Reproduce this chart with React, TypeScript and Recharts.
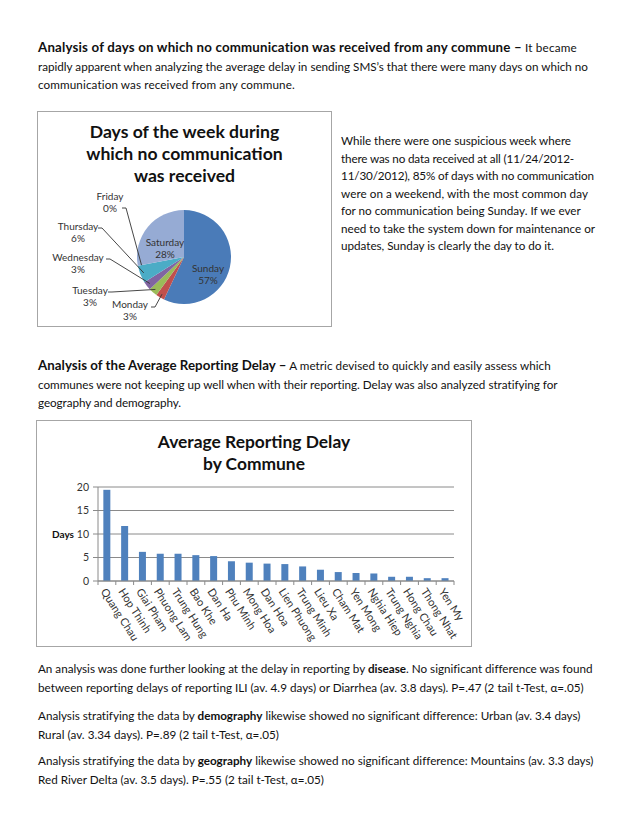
import { useLayoutEffect, useRef } from "react";
import { PieChart, Pie, Cell, BarChart, Bar, XAxis, YAxis, CartesianGrid } from "recharts";

// days with no communication received
const days = ["Sunday", "Monday", "Tuesday", "Wednesday", "Thursday", "Friday", "Saturday"];
const dayShares = [57, 3, 3, 3, 6, 0, 28];
const dayColors = ["#4A7BB8", "#C0504D", "#9BBB59", "#8064A2", "#4BACC6", "#F79646", "#96ABD4"];

// average reporting delay (days)
const communes = [
  "Quang Chau", "Hop Thinh", "Giai Pham", "Phuong Lam", "Trung Hung",
  "Bao Khe", "Dan Ha", "Phu Minh", "Mong Hoa", "Dan Hoa",
  "Lien Phuong", "Trung Minh", "Lieu Xa", "Cham Mat", "Yen Mong",
  "Nghia Hiep", "Trung Nghia", "Hong Chau", "Thong Nhat", "Yen My",
];
const delays = [19.4, 11.7, 6.2, 5.8, 5.8, 5.5, 5.3, 4.2, 3.9, 3.7, 3.6, 3.1, 2.4, 1.9, 1.7, 1.6, 0.9, 0.9, 0.6, 0.6];
const delayTicks = [0, 5, 10, 15, 20];

const pieData = days.map((d, i) => ({ name: d, value: dayShares[i] }));
const barData = communes.map((c, i) => ({ name: c, delay: delays[i] }));

const FONT = "Lato, 'Open Sans', sans-serif";
const GRID = "#8a8a8a";
const TEXT = "#333";

// label placement relative to the pie centre (inside labels have no leader)
const labelLayout = [
  { tx: 24, ty: 17, inside: true },
  { tx: -54, ty: 53, lx: -33, ly: 50 },
  { tx: -94, ty: 39, lx: -76, ly: 35 },
  { tx: -106, ty: 6, lx: -78, ly: 2 },
  { tx: -106, ty: -25, lx: -86, ly: -29 },
  { tx: -74, ty: -55, lx: -62, ly: -49 },
  { tx: -19, ty: -9, inside: true },
];

const RAD = Math.PI / 180;

function renderPieLabel(props: any) {
  const { cx, cy, midAngle, outerRadius, index } = props;
  const lay = labelLayout[index];
  const x = cx + lay.tx;
  const y = cy + lay.ty;
  const ex = cx + outerRadius * 0.92 * Math.cos(-midAngle * RAD);
  const ey = cy + outerRadius * 0.92 * Math.sin(-midAngle * RAD);
  return (
    <g key={"lbl" + index}>
      {!lay.inside && (
        <polyline
          points={`${cx + lay.lx},${cy + lay.ly} ${cx + lay.lx + 4},${cy + lay.ly} ${ex},${ey}`}
          fill="none"
          stroke="#333"
          strokeWidth={0.9}
        />
      )}
      <text x={x} y={y - 6} textAnchor="middle" dominantBaseline="central" fontSize={10} fill={TEXT} fontFamily={FONT}>
        {days[index]}
      </text>
      <text x={x} y={y + 6} textAnchor="middle" dominantBaseline="central" fontSize={10} fill={TEXT} fontFamily={FONT}>
        {dayShares[index]}%
      </text>
    </g>
  );
}

const BAR_W = 435;
const BAR_H = 226;
const Y_W = 62;
const RIGHT = 17;
const BAND = (BAR_W - Y_W - RIGHT) / communes.length;

function CommuneTick(props: any) {
  const { x, y, payload, index } = props;
  const i = index ?? payload.index;
  return (
    <g>
      <line x1={x - BAND / 2} x2={x - BAND / 2} y1={y} y2={y + 4} stroke={GRID} />
      {i === communes.length - 1 && <line x1={x + BAND / 2} x2={x + BAND / 2} y1={y} y2={y + 4} stroke={GRID} />}
      <text
        transform={`translate(${x - 3},${y + 8}) rotate(57)`}
        fontSize={11}
        fill={TEXT}
        fontFamily={FONT}
        dominantBaseline="central"
      >
        {payload.value}
      </text>
    </g>
  );
}

// one line of body text, letter-spaced so it ends where the original line ends
function Line({ top, left, end, children, size = 11.7 }: any) {
  const ref = useRef<HTMLDivElement>(null);
  useLayoutEffect(() => {
    const fit = () => {
      const el = ref.current;
      if (!el || !end) return;
      el.style.letterSpacing = "0px";
      const w = el.getBoundingClientRect().width;
      const n = (el.textContent || "").length;
      el.style.letterSpacing = `${(end - left - w) / n}px`;
    };
    fit();
    if (document.fonts) document.fonts.ready.then(fit);
  }, []);
  return (
    <div
      ref={ref}
      style={{
        position: "absolute",
        top: top - 9,
        left,
        height: 18,
        lineHeight: "18px",
        fontSize: size,
        whiteSpace: "nowrap",
        color: "#111",
      }}
    >
      {children}
    </div>
  );
}

const HEAD = 13.3;

export default function App() {
  return (
    <div style={{ position: "absolute", left: 0, top: 0, width: 638, height: 826, background: "#fff", fontFamily: FONT, overflow: "hidden" }}>
      <Line top={47} left={38} end={577}>
        <b style={{ fontSize: HEAD }}>Analysis of days on which no communication was received from any commune –</b> It became
      </Line>
      <Line top={66} left={38} end={588}>rapidly apparent when analyzing the average delay in sending SMS’s that there were many days on which no</Line>
      <Line top={84} left={38} end={295}>communication was received from any commune.</Line>

      {/* pie chart box */}
      <div style={{ position: "absolute", left: 37, top: 111, width: 293, height: 214, border: "1px solid #a6a6a6" }} />
      <div style={{ position: "absolute", left: 37, top: 121, width: 295, textAlign: "center", fontWeight: 700, fontSize: 17.6, lineHeight: "22px", color: "#111" }}>
        Days of the week during
        <br />
        which no communication
        <br />
        was received
      </div>
      <div style={{ position: "absolute", left: 37, top: 111 }}>
        <PieChart width={294} height={215} margin={{ top: 0, right: 0, bottom: 0, left: 0 }}>
          <Pie
            data={pieData}
            dataKey="value"
            nameKey="name"
            cx={147}
            cy={146}
            outerRadius={47}
            startAngle={90}
            endAngle={-270}
            stroke="none"
            label={renderPieLabel}
            labelLine={false}
            isAnimationActive={false}
          >
            {pieData.map((d, i) => (
              <Cell key={d.name} fill={dayColors[i]} />
            ))}
          </Pie>
        </PieChart>
      </div>

      <Line top={140} left={341} end={571}>While there were one suspicious week where</Line>
      <Line top={157.5} left={341} end={574}>there was no data received at all (11/24/2012-</Line>
      <Line top={175} left={341} end={594}>11/30/2012), 85% of days with no communication</Line>
      <Line top={192.5} left={341} end={588}>were on a weekend, with the most common day</Line>
      <Line top={210} left={341} end={581}>for no communication being Sunday. If we ever</Line>
      <Line top={227.5} left={341} end={595}>need to take the system down for maintenance or</Line>
      <Line top={245} left={341} end={554}>updates, Sunday is clearly the day to do it.</Line>

      <Line top={365} left={38} end={551}>
        <b style={{ fontSize: HEAD }}>Analysis of the Average Reporting Delay –</b> A metric devised to quickly and easily assess which
      </Line>
      <Line top={384} left={38} end={558}>communes were not keeping up well when with their reporting. Delay was also analyzed stratifying for</Line>
      <Line top={402} left={38} end={181}>geography and demography.</Line>

      {/* bar chart box */}
      <div style={{ position: "absolute", left: 36, top: 420, width: 434, height: 225, border: "1px solid #a6a6a6" }} />
      <div style={{ position: "absolute", left: 36, top: 431, width: 436, textAlign: "center", fontWeight: 700, fontSize: 17.4, lineHeight: "22px", color: "#111" }}>
        Average Reporting Delay
        <br />
        by Commune
      </div>
      <div style={{ position: "absolute", left: 36, top: 420 }}>
        <BarChart width={BAR_W} height={BAR_H} data={barData} margin={{ top: 67, right: RIGHT, left: 0, bottom: 0 }} barCategoryGap="30%">
          <CartesianGrid vertical={false} stroke={GRID} />
          <XAxis
            dataKey="name"
            interval={0}
            height={65}
            tickSize={0}
            tickMargin={0}
            stroke={GRID}
            tick={<CommuneTick />}
          />
          <YAxis
            width={Y_W}
            domain={[0, 20]}
            ticks={delayTicks}
            stroke={GRID}
            tickSize={5}
            tickMargin={4}
            tick={{ fontSize: 10.5, fill: TEXT, fontFamily: FONT }}
            label={{
              content: ({ viewBox }: any) => (
                <text x={viewBox.x + 16} y={viewBox.y + viewBox.height / 2} dominantBaseline="central" fontSize={10} fontWeight={700} fill="#111" fontFamily={FONT}>
                  Days
                </text>
              ),
            }}
          />
          <Bar dataKey="delay" fill="#4F81BD" isAnimationActive={false} />
        </BarChart>
      </div>

      <Line top={668} left={38} end={592}>
        An analysis was done further looking at the delay in reporting by <b>disease</b>. No significant difference was found
      </Line>
      <Line top={687} left={38} end={584}>between reporting delays of reporting ILI (av. 4.9 days) or Diarrhea (av. 3.8 days). P=.47 (2 tail t-Test, α=.05)</Line>
      <Line top={715} left={38} end={580}>
        Analysis stratifying the data by <b>demography</b> likewise showed no significant difference: Urban (av. 3.4 days)
      </Line>
      <Line top={734} left={38} end={279}>Rural (av. 3.34 days). P=.89 (2 tail t-Test, α=.05)</Line>
      <Line top={760} left={38} end={593}>
        Analysis stratifying the data by <b>geography</b> likewise showed no significant difference: Mountains (av. 3.3 days)
      </Line>
      <Line top={779} left={38} end={324}>Red River Delta (av. 3.5 days). P=.55 (2 tail t-Test, α=.05)</Line>
    </div>
  );
}
